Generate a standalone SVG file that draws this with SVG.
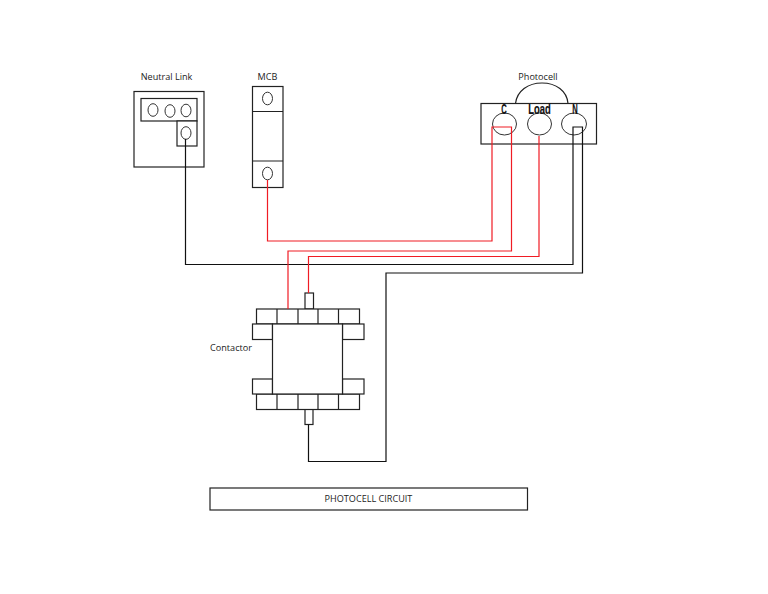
<svg xmlns="http://www.w3.org/2000/svg" width="768" height="594" viewBox="0 0 768 594">
<style>
.s{fill:#fff;stroke:#222;stroke-width:1.2}
.e{fill:none;stroke:#333;stroke-width:1}
.k{fill:none;stroke:#111;stroke-width:1.2}
.r{fill:none;stroke:#f01c24;stroke-width:1.2}
text{font-family:"Open Sans","Noto Sans","Liberation Sans",sans-serif;font-size:9.1px;fill:#222;text-anchor:middle}
.b{font-family:"Liberation Sans",sans-serif;font-weight:bold;font-size:15.5px;fill:#111;stroke:#111;stroke-width:.2}
</style>
<rect width="768" height="594" fill="#fff"/>
<g id="neutral-link">
<text x="166.500" y="79.500">Neutral Link</text>
<rect class="s" x="134" y="91.500" width="70" height="75.500"/>
<rect class="s" x="141" y="98.500" width="56" height="22.500"/>
<rect class="s" x="177" y="121" width="20" height="25"/>
<ellipse class="e" cx="153" cy="110" rx="5" ry="6.300"/>
<ellipse class="e" cx="170" cy="111" rx="5" ry="6.300"/>
<ellipse class="e" cx="186" cy="110.500" rx="5" ry="6.300"/>
<ellipse class="e" cx="186" cy="133" rx="5" ry="6.300"/>
</g>
<g id="mcb">
<text x="267.500" y="79.500">MCB</text>
<rect class="s" x="252.500" y="86.500" width="30.500" height="101"/>
<path class="s" d="M252.500 111.500H283M252.500 161H283"/>
<ellipse class="e" cx="267.500" cy="98.500" rx="5" ry="6.300"/>
<ellipse class="e" cx="267.500" cy="173.500" rx="5" ry="6.300"/>
</g>
<g id="photocell">
<text x="538" y="79.500">Photocell</text>
<path class="s" style="fill:none" d="M515.500 103.500C517 91 528 83 542 83C556 83 567 91 568 103.500"/>
<rect class="s" x="481" y="103.500" width="115.500" height="40.500"/>
<ellipse class="e" cx="504.500" cy="124" rx="12" ry="11"/>
<ellipse class="e" cx="539.500" cy="124" rx="12" ry="11"/>
<ellipse class="e" cx="574" cy="124" rx="12.500" ry="11"/>
<text class="b" x="504" y="113.500" textLength="5.500" lengthAdjust="spacingAndGlyphs">C</text>
<text class="b" x="539.500" y="113.500" textLength="22.500" lengthAdjust="spacingAndGlyphs">Load</text>
<text class="b" x="575" y="113.500" textLength="5.500" lengthAdjust="spacingAndGlyphs">N</text>
</g>
<g id="contactor">
<text x="231" y="351">Contactor</text>
<rect class="s" x="305" y="293" width="8.500" height="16"/>
<rect class="s" x="305" y="409" width="8" height="15.500"/>
<rect class="s" x="256.500" y="309" width="103" height="15"/>
<path class="s" d="M277 309V324M298 309V324M318 309V324M338.500 309V324"/>
<rect class="s" x="256.500" y="394" width="103" height="15.500"/>
<path class="s" d="M277 394V409.500M298 394V409.500M318 394V409.500M338.500 394V409.500"/>
<rect class="s" x="252.500" y="324" width="20" height="15.500"/>
<rect class="s" x="342.500" y="324" width="21.500" height="15.500"/>
<rect class="s" x="252.500" y="379" width="20" height="15"/>
<rect class="s" x="342.500" y="379" width="21.500" height="15"/>
<rect class="s" x="272.500" y="324" width="70" height="70"/>
</g>
<g id="title">
<rect class="s" x="210" y="488" width="317.500" height="22"/>
<text x="368.500" y="501.500">PHOTOCELL CIRCUIT</text>
</g>
<g id="connectors">
<path class="k" d="M185.500 139V264.500H573V127H582.500V273H386V461.500H308.500V424.500"/>
<path class="r" d="M267.500 180V241H492V127H511.500V251H288V309"/>
<path class="r" d="M539 136V256.500H308.500V293"/>
</g>
</svg>
